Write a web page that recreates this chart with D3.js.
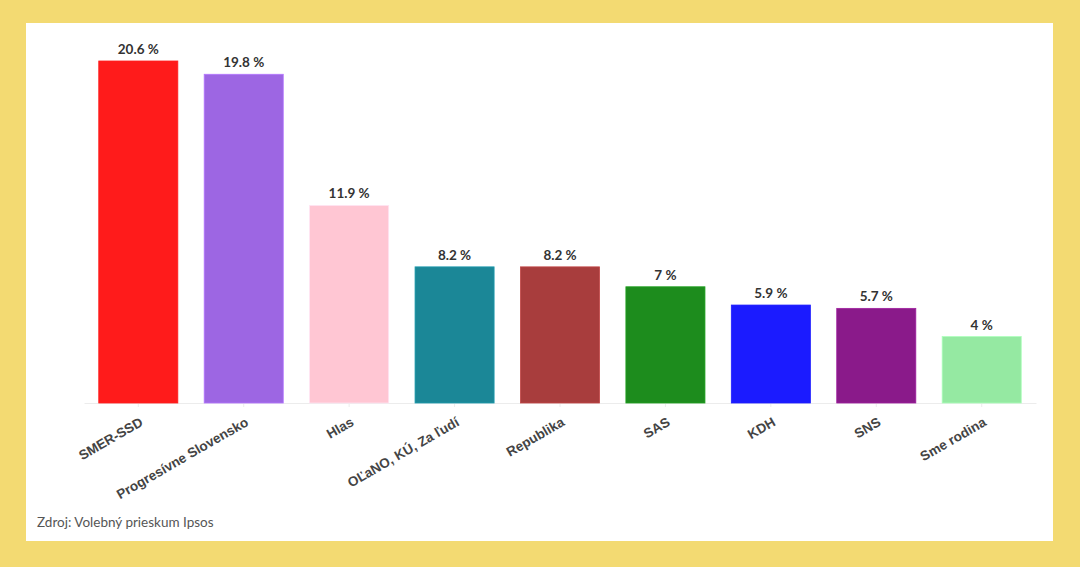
<!DOCTYPE html>
<html>
<head>
<meta charset="utf-8">
<script src="https://cdn.jsdelivr.net/npm/d3@7"></script>
<style>
  body { margin: 0; background: #f3da72; }
  #chart { width: 1080px; height: 567px; }
</style>
</head>
<body>
<div id="chart"></div>
<script>
const parties = ["SMER-SSD", "Progresívne Slovensko", "Hlas", "OĽaNO, KÚ, Za ľudí", "Republika", "SAS", "KDH", "SNS", "Sme rodina"];
const shares = [20.6, 19.8, 11.9, 8.2, 8.2, 7, 5.9, 5.7, 4];
const colors = ["#ff1b1b", "#9d66e3", "#ffc6d3", "#1b8797", "#a83d3d", "#1d8c1d", "#1b1bff", "#8a1a8a", "#95e9a2"];
const source = "Zdroj: Volebný prieskum Ipsos";

const width = 1080, height = 567;
const margin = { top: 61, right: 44, bottom: 164, left: 84 };
const innerW = width - margin.left - margin.right;
const innerH = height - margin.top - margin.bottom;

const svg = d3.select("#chart").append("svg")
  .attr("width", width)
  .attr("height", height)
  .style("font-family", "Lato, 'Noto Sans', sans-serif");

// white card
svg.append("rect")
  .attr("x", 26).attr("y", 23)
  .attr("width", 1027).attr("height", 518)
  .attr("fill", "#fff");

const chart = svg.append("g")
  .attr("transform", `translate(${margin.left},${margin.top})`);

const x = d3.scaleBand()
  .domain(parties)
  .range([0, innerW])
  .paddingInner(0.25)
  .paddingOuter(0.14);

const y = d3.scaleLinear()
  .domain([0, d3.max(shares)])
  .range([innerH, 0]);

const data = parties.map((p, i) => ({ party: p, value: shares[i], color: colors[i] }));

// baseline axis
const xAxis = chart.append("g")
  .attr("transform", `translate(0,${innerH})`)
  .call(d3.axisBottom(x).tickSize(4).tickSizeOuter(0));
xAxis.select(".domain").attr("stroke", "#ececec");
xAxis.selectAll(".tick line").attr("stroke", "#ececec");
xAxis.selectAll(".tick text")
  .attr("font-size", "13.5px")
  .attr("font-weight", "700")
  .attr("fill", "#444")
  .attr("text-anchor", "end")
  .attr("transform", "translate(-3,7) rotate(-30)")
  .attr("dy", "0.75em");

chart.selectAll("rect.bar")
  .data(data)
  .join("rect")
  .attr("class", "bar")
  .attr("x", d => x(d.party))
  .attr("y", d => y(d.value))
  .attr("width", x.bandwidth())
  .attr("height", d => innerH - y(d.value))
  .attr("fill", d => d.color)
  .attr("stroke", d => d3.color(d.color).brighter(0.4))
  .attr("stroke-width", 0.8);

chart.selectAll("text.value")
  .data(data)
  .join("text")
  .attr("class", "value")
  .attr("x", d => x(d.party) + x.bandwidth() / 2)
  .attr("y", d => y(d.value) - 7)
  .attr("text-anchor", "middle")
  .attr("font-size", "13.5px")
  .attr("font-weight", "700")
  .attr("fill", "#333")
  .text(d => `${d.value} %`);

svg.append("text")
  .attr("x", 37)
  .attr("y", 527)
  .attr("font-size", "13.5px")
  .attr("fill", "#555")
  .text(source);
</script>
</body>
</html>
